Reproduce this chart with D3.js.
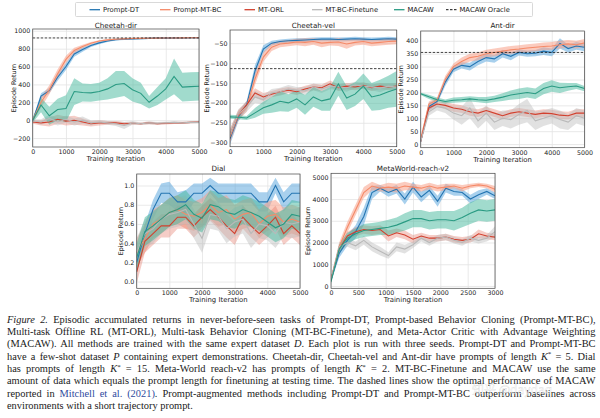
<!DOCTYPE html>
<html>
<head>
<meta charset="utf-8">
<script src="https://cdn.jsdelivr.net/npm/d3@7"></script>
<style>
body { margin: 0; background: #fff; }
svg { display: block; }
</style>
</head>
<body>
<div id="fig"></div>
<script>
// ---- data ----
let iters = [0,250,500,750,1000,1250,1500,1750,2000,2250,2500,2750,3000,3250,3500,3750,4000,4250,4500,4750,5000];
let itersReach = [0,150,300,450,600,750,900,1050,1200,1350,1500,1650,1800,1950,2100,2250,2400,2550,2700,2850,3000];

let methods = ["Prompt-DT","Prompt-MT-BC","MT-ORL","MT-BC-Finetune","MACAW","MACAW Oracle"];

// Cheetah-dir
let dirDT    = [-10,270,330,480,600,740,790,835,865,885,900,905,910,912,915,918,918,920,920,922,922];
let dirDTsd  = [20,30,30,40,40,30,25,15,15,10,10,8,8,8,8,8,8,8,8,8,8];
let dirBC    = [0,200,340,520,680,780,825,860,885,898,905,910,913,915,917,918,920,920,921,922,922];
let dirBCsd  = [20,60,50,50,40,30,20,15,10,10,8,8,8,8,8,8,8,8,8,8,8];
let dirORL   = [-20,-30,-20,10,-10,0,-20,-40,-30,-30,-30,-40,-35,-40,-30,-40,-35,-30,-30,-25,-20];
let dirORLsd = [20,30,50,50,50,50,40,30,30,20,20,20,15,15,15,15,12,12,12,12,12];
let dirFT    = [-10,-20,20,-20,10,-20,0,-30,-20,-30,-40,-60,-30,-40,-30,-35,-30,-25,-30,-25,-25];
let dirFTsd  = [20,30,40,40,40,40,40,30,20,20,25,40,20,15,15,15,12,12,12,12,12];
let dirMW    = [0,170,50,120,130,320,310,305,320,350,400,410,340,300,200,270,350,490,370,375,380];
let dirMWsd  = [30,80,100,120,150,150,100,100,100,120,150,140,130,120,70,100,120,200,160,160,160];
let dirOracle = 920;

// Cheetah-vel
let velDT    = [-290,-235,-205,-120,-65,-50,-46,-44,-43,-42,-41,-40,-40,-41,-40,-39,-40,-41,-40,-39,-40];
let velDTsd  = [15,12,10,15,10,6,5,5,5,5,5,5,5,5,5,5,5,5,5,5,5];
let velBC    = [-285,-232,-210,-140,-85,-60,-52,-50,-47,-48,-46,-50,-48,-47,-52,-48,-46,-50,-48,-46,-45];
let velBCsd  = [15,12,12,15,12,10,8,8,8,10,8,10,8,10,12,8,8,8,8,8,8];
let velORL   = [-280,-230,-205,-175,-185,-178,-172,-168,-172,-165,-160,-162,-152,-162,-158,-160,-156,-162,-158,-160,-158];
let velORLsd = [15,12,10,12,10,8,8,8,8,8,8,8,8,8,8,8,8,8,8,8,8];
let velFT    = [-280,-228,-210,-185,-192,-175,-172,-165,-168,-170,-160,-165,-158,-160,-162,-155,-158,-160,-163,-158,-160];
let velFTsd  = [15,12,12,15,12,10,10,10,8,10,8,10,8,8,10,8,8,8,10,8,8];
let velMW    = [-235,-236,-238,-225,-212,-205,-196,-200,-190,-205,-185,-195,-190,-152,-188,-178,-158,-185,-180,-172,-165];
let velMWsd  = [5,5,5,12,15,20,25,22,22,25,25,25,30,30,30,30,32,35,38,40,45];
let velOracle = -114;

// Ant-dir
let antDT    = [10,145,165,240,290,305,300,320,335,330,350,340,355,350,352,360,355,390,370,380,375];
let antDTsd  = [5,15,10,15,12,12,15,15,15,15,15,15,12,12,12,15,15,20,15,15,15];
let antBC    = [20,155,170,250,300,320,335,340,350,355,360,365,368,372,375,378,380,385,388,385,392];
let antBCsd  = [5,10,10,15,12,15,15,15,15,15,15,15,15,15,15,15,15,15,15,15,15];
let antORL   = [10,140,155,150,140,135,125,120,130,120,110,120,125,120,115,120,118,112,110,120,120];
let antORLsd = [5,10,10,15,15,15,15,15,15,15,15,15,15,15,15,15,15,15,15,15,15];
let antFT    = [10,125,145,140,120,110,140,90,120,85,100,95,115,130,90,100,110,95,85,110,100];
let antFTsd  = [5,15,15,20,25,35,40,30,30,30,30,35,40,45,35,30,30,35,30,30,30];
let antMW    = [195,183,172,165,170,172,175,172,170,175,182,190,195,200,195,215,225,218,222,225,215];
let antMWsd  = [5,8,8,8,10,10,10,10,12,12,15,18,20,20,20,22,22,20,15,12,10];
let antOracle = 355;

// Dial
let dialDT    = [0.2,0.5,0.75,0.92,0.92,0.83,0.83,0.92,0.92,1.0,0.92,0.92,0.92,0.92,0.92,0.83,0.83,1.0,0.83,0.92,0.92];
let dialDTsd  = [0.1,0.1,0.1,0.1,0.12,0.1,0.12,0.1,0.1,0.08,0.1,0.1,0.1,0.1,0.1,0.1,0.1,0.08,0.1,0.1,0.1];
let dialBC    = [0.3,0.45,0.6,0.65,0.72,0.75,0.7,0.68,0.72,0.8,0.72,0.75,0.65,0.7,0.72,0.6,0.68,0.7,0.62,0.65,0.62];
let dialBCsd  = [0.15,0.15,0.15,0.15,0.15,0.15,0.15,0.15,0.15,0.15,0.15,0.15,0.15,0.15,0.15,0.15,0.15,0.15,0.15,0.15,0.15];
let dialORL   = [0.1,0.42,0.5,0.58,0.58,0.67,0.67,0.58,0.67,0.75,0.67,0.58,0.5,0.67,0.58,0.5,0.58,0.67,0.5,0.58,0.5];
let dialORLsd = [0.12,0.12,0.12,0.12,0.12,0.12,0.12,0.12,0.12,0.12,0.12,0.12,0.12,0.12,0.12,0.12,0.12,0.12,0.12,0.12,0.12];
let dialFT    = [0.3,0.5,0.55,0.65,0.7,0.72,0.75,0.6,0.45,0.7,0.68,0.55,0.62,0.65,0.5,0.6,0.58,0.5,0.62,0.6,0.62];
let dialFTsd  = [0.15,0.15,0.15,0.15,0.15,0.15,0.15,0.15,0.15,0.15,0.15,0.15,0.15,0.15,0.15,0.15,0.15,0.15,0.15,0.15,0.15];
let dialMW    = [0.25,0.52,0.58,0.65,0.72,0.75,0.8,0.7,0.66,0.8,0.78,0.72,0.7,0.75,0.72,0.68,0.62,0.56,0.6,0.7,0.68];
let dialMWsd  = [0.15,0.15,0.15,0.15,0.15,0.15,0.15,0.15,0.15,0.15,0.15,0.15,0.15,0.15,0.15,0.15,0.15,0.15,0.15,0.15,0.15];

// MetaWorld-reach-v2
let reachDT    = [300,1500,2100,2500,3200,4300,4500,4300,4450,4000,4550,4100,4400,3900,4500,4350,4300,4000,4200,4350,4150];
let reachDTsd  = [100,200,250,300,400,300,150,200,200,250,250,250,200,250,200,200,150,200,200,150,150];
let reachBC    = [300,1800,2700,3500,4300,4600,4500,4550,4500,4600,4550,4500,4600,4500,4550,4600,4500,4600,4650,4600,4450];
let reachBCsd  = [100,200,250,250,250,200,150,200,200,200,150,150,150,150,150,100,150,100,100,100,150];
let reachORL   = [300,1700,2300,2500,2600,2550,2600,2300,2450,2350,2150,2300,2200,2200,2250,2150,2100,2150,2400,2300,2250];
let reachORLsd = [100,200,200,200,200,200,200,250,200,200,200,150,150,150,150,150,150,150,200,150,150];
let reachFT    = [300,1800,2000,1850,2100,1800,1600,1400,1800,1700,1900,2200,2000,2200,2250,2100,2000,2200,2100,2200,2500];
let reachFTsd  = [100,200,200,200,200,200,200,150,200,200,150,150,150,150,150,150,150,150,150,150,250];
let reachMW    = [200,1700,2200,2400,2550,2600,2650,2700,2800,2950,3100,3100,3000,3050,3050,3000,3150,3350,3500,3450,3500];
let reachMWsd  = [100,200,250,250,300,300,300,350,350,400,400,400,400,400,400,450,450,500,500,500,500];

// ---- figure ----
let svgWidth = 600, svgHeight = 418;
let colors = {
    "Prompt-DT":      {line:"#2475b2", band:"#3f97d6", op:0.45},
    "Prompt-MT-BC":   {line:"#f58a68", band:"#f7a189", op:0.55},
    "MT-ORL":         {line:"#d2402e", band:"#e2705f", op:0.35},
    "MT-BC-Finetune": {line:"#b9b9b9", band:"#bdbdbd", op:0.45},
    "MACAW":          {line:"#2a9b83", band:"#43b79c", op:0.5}
};

let svg = d3.select("#fig").append("svg")
    .attr("width", svgWidth)
    .attr("height", svgHeight);

function series(mean, sd, name) { return {name: name, mean: mean, sd: sd}; }

let panels = [
    {title:"Cheetah-dir", left:32.7, right:199, top:29, bottom:147, x:iters, xMax:5000,
     xTicks:[0,1000,2000,3000,4000,5000], yDomain:[-300,1020], yTicks:[-200,0,200,400,600,800,1000],
     fmt:d3.format("d"), labX:14, oracle:dirOracle, titleY:27.5,
     series:[series(dirDT,dirDTsd,methods[0]),series(dirBC,dirBCsd,methods[1]),series(dirORL,dirORLsd,methods[2]),
             series(dirFT,dirFTsd,methods[3]),series(dirMW,dirMWsd,methods[4])]},
    {title:"Cheetah-vel", left:230, right:396.7, top:30, bottom:146.7, x:iters, xMax:5000,
     xTicks:[0,1000,2000,3000,4000,5000], yDomain:[-310,-17], yTicks:[-300,-250,-200,-150,-100,-50],
     fmt:d3.format("d"), labX:206.7, oracle:velOracle, titleY:27.5,
     series:[series(velDT,velDTsd,methods[0]),series(velBC,velBCsd,methods[1]),series(velORL,velORLsd,methods[2]),
             series(velFT,velFTsd,methods[3]),series(velMW,velMWsd,methods[4])]},
    {title:"Ant-dir", left:420.7, right:584.5, top:31, bottom:147.7, x:iters, xMax:5000,
     xTicks:[0,1000,2000,3000,4000,5000], yDomain:[-14,438], yTicks:[0,50,100,150,200,250,300,350,400],
     fmt:d3.format("d"), labX:401, oracle:antOracle, titleY:27.5,
     series:[series(antDT,antDTsd,methods[0]),series(antBC,antBCsd,methods[1]),series(antORL,antORLsd,methods[2]),
             series(antFT,antFTsd,methods[3]),series(antMW,antMWsd,methods[4])]},
    {title:"Dial", left:136.7, right:300, top:174, bottom:288.3, x:iters, xMax:5000,
     xTicks:[0,1000,2000,3000,4000,5000], yDomain:[-0.07,1.12], yTicks:[0,0.2,0.4,0.6,0.8,1.0],
     fmt:d3.format(".1f"), labX:120.7, oracle:null, titleY:171,
     series:[series(dialDT,dialDTsd,methods[0]),series(dialBC,dialBCsd,methods[1]),series(dialORL,dialORLsd,methods[2]),
             series(dialFT,dialFTsd,methods[3]),series(dialMW,dialMWsd,methods[4])]},
    {title:"MetaWorld-reach-v2", left:331, right:495, top:173.3, bottom:288.3, x:itersReach, xMax:3000,
     xTicks:[0,500,1000,1500,2000,2500,3000], yDomain:[-106,5184], yTicks:[0,1000,2000,3000,4000,5000],
     fmt:d3.format("d"), labX:308, oracle:null, titleY:171,
     series:[series(reachDT,reachDTsd,methods[0]),series(reachBC,reachBCsd,methods[1]),series(reachORL,reachORLsd,methods[2]),
             series(reachFT,reachFTsd,methods[3]),series(reachMW,reachMWsd,methods[4])]}
];

let sans = "DejaVu Sans, sans-serif";

panels.forEach(function(p, pi) {
    let xScale = d3.scaleLinear().domain([0, p.xMax]).range([p.left, p.right]);
    let yScale = d3.scaleLinear().domain(p.yDomain).range([p.bottom, p.top]);
    let h = p.bottom - p.top, w = p.right - p.left;

    let g = svg.append("g");

    // grid + tick labels
    let gx = g.append("g")
        .attr("transform", `translate(0,${p.bottom})`)
        .call(d3.axisBottom(xScale).tickValues(p.xTicks).tickSize(-h).tickPadding(2.5).tickFormat(d3.format("d")));
    let gy = g.append("g")
        .attr("transform", `translate(${p.left},0)`)
        .call(d3.axisLeft(yScale).tickValues(p.yTicks).tickSize(-w).tickPadding(2.5).tickFormat(p.fmt));
    [gx, gy].forEach(function(a) {
        a.select(".domain").remove();
        a.selectAll(".tick line").attr("stroke", "#e3e3e3").attr("stroke-width", 0.8);
        a.selectAll(".tick text").attr("font-family", sans).attr("font-size", 6.3).attr("fill", "#222");
    });

    // clip
    g.append("clipPath").attr("id", "clip" + pi)
        .append("rect").attr("x", p.left).attr("y", p.top).attr("width", w).attr("height", h);
    let plot = g.append("g").attr("clip-path", `url(#clip${pi})`);

    p.series.forEach(function(s) {
        let c = colors[s.name];
        let area = d3.area()
            .x((d, i) => xScale(p.x[i]))
            .y0((d, i) => yScale(s.mean[i] - s.sd[i]))
            .y1((d, i) => yScale(s.mean[i] + s.sd[i]));
        plot.append("path").datum(s.mean)
            .attr("d", area)
            .attr("fill", c.band)
            .attr("fill-opacity", c.op);
    });
    p.series.forEach(function(s) {
        let c = colors[s.name];
        let line = d3.line()
            .x((d, i) => xScale(p.x[i]))
            .y(d => yScale(d));
        plot.append("path").datum(s.mean)
            .attr("d", line)
            .attr("fill", "none")
            .attr("stroke", c.line)
            .attr("stroke-width", 1.1);
    });

    if (p.oracle !== null) {
        plot.append("line")
            .attr("x1", p.left).attr("x2", p.right)
            .attr("y1", yScale(p.oracle)).attr("y2", yScale(p.oracle))
            .attr("stroke", "#111").attr("stroke-width", 0.8)
            .attr("stroke-dasharray", "2.5,1.5");
    }

    // frame
    g.append("rect")
        .attr("x", p.left).attr("y", p.top).attr("width", w).attr("height", h)
        .attr("fill", "none").attr("stroke", "#444").attr("stroke-width", 0.7);

    // labels
    g.append("text")
        .attr("x", (p.left + p.right) / 2).attr("y", p.titleY)
        .attr("text-anchor", "middle")
        .attr("font-family", sans).attr("font-size", 7.2)
        .attr("fill", "#222")
        .text(p.title);
    g.append("text")
        .attr("x", (p.left + p.right) / 2).attr("y", p.bottom + 14)
        .attr("text-anchor", "middle")
        .attr("font-family", sans).attr("font-size", 6.9)
        .attr("fill", "#222")
        .text("Training Iteration");
    g.append("text")
        .attr("transform", `translate(${p.labX},${(p.top + p.bottom) / 2}) rotate(-90)`)
        .attr("dy", "0.35em")
        .attr("text-anchor", "middle")
        .attr("font-family", sans).attr("font-size", 6.4)
        .attr("fill", "#222")
        .text("Episode Return");
});

// legend
let legend = svg.append("g");
legend.append("rect")
    .attr("x", 75.5).attr("y", 2.5).attr("width", 457).attr("height", 14)
    .attr("rx", 1).attr("fill", "#fff").attr("stroke", "#cfcfcf").attr("stroke-width", 0.8);
let legX = [89.5, 160, 244.5, 312, 394, 446];
methods.forEach(function(m, i) {
    let isOracle = m === "MACAW Oracle";
    legend.append("line")
        .attr("x1", legX[i]).attr("x2", legX[i] + 10.5)
        .attr("y1", 9.7).attr("y2", 9.7)
        .attr("stroke", isOracle ? "#111" : colors[m].line)
        .attr("stroke-width", isOracle ? 1 : 1.3)
        .attr("stroke-dasharray", isOracle ? "2.5,1.5" : null);
    legend.append("text")
        .attr("x", legX[i] + 13.5).attr("y", 12.3)
        .attr("font-family", sans).attr("font-size", 6.8)
        .attr("fill", "#222")
        .text(m);
});

// caption
let captionLines = [
    [{t:"Figure 2.", it:true}, {t:" Episodic accumulated returns in never-before-seen tasks of Prompt-DT, Prompt-based Behavior Cloning (Prompt-MT-BC),"}],
    [{t:"Multi-task Offline RL (MT-ORL), Multi-task Behavior Cloning (MT-BC-Finetune), and Meta-Actor Critic with Advantage Weighting"}],
    [{t:"(MACAW). All methods are trained with the same expert dataset "}, {t:"D", it:true}, {t:". Each plot is run with three seeds. Prompt-DT and Prompt-MT-BC"}],
    [{t:"have a few-shot dataset "}, {t:"P", it:true}, {t:" containing expert demonstrations. Cheetah-dir, Cheetah-vel and Ant-dir have prompts of length "}, {t:"K", it:true}, {t:"*", sup:true}, {t:" = 5. Dial"}],
    [{t:"has prompts of length "}, {t:"K", it:true}, {t:"*", sup:true}, {t:" = 15. Meta-World reach-v2 has prompts of length "}, {t:"K", it:true}, {t:"*", sup:true}, {t:" = 2. MT-BC-Finetune and MACAW use the same"}],
    [{t:"amount of data which equals the prompt length for finetuning at testing time. The dashed lines show the optimal performance of MACAW"}],
    [{t:"reported in "}, {t:"Mitchell et al. (2021)", link:true}, {t:". Prompt-augmented methods including Prompt-DT and Prompt-MT-BC outperform baselines across"}],
    [{t:"environments with a short trajectory prompt."}]
];
let capLeft = 7, capRight = 595.5, capTop = 322.8, capStep = 12.3;
let cap = svg.append("g")
    .attr("font-family", "Liberation Serif, Times New Roman, serif")
    .attr("font-size", 10.4)
    .attr("fill", "#1a1a1a");
captionLines.forEach(function(segs, li) {
    let t = cap.append("text")
        .attr("x", capLeft)
        .attr("y", capTop + li * capStep);
    let raised = false;
    segs.forEach(function(s) {
        let ts = t.append("tspan").text(s.t);
        if (s.it) ts.attr("font-style", "italic");
        if (s.link) ts.attr("fill", "#2e4a9e");
        if (s.sup) {
            ts.attr("font-size", 7).attr("dy", -3.5);
            raised = true;
        } else if (raised) {
            ts.attr("dy", 3.5);
            raised = false;
        }
    });
    if (li < captionLines.length - 1) {
        let full = segs.map(s => s.t).join("");
        let spaces = (full.match(/ /g) || []).length;
        let natural = t.node().getComputedTextLength();
        t.attr("word-spacing", (capRight - capLeft - natural) / spaces);
    }
});

// watermark
svg.append("text")
    .attr("x", 472).attr("y", 394)
    .attr("font-family", "Noto Sans CJK SC, sans-serif")
    .attr("font-size", 12)
    .attr("fill", "#fff").attr("fill-opacity", 0.75)
    .attr("stroke", "#999").attr("stroke-width", 0.25).attr("stroke-opacity", 0.6)
    .text("知乎 @daydaq");
</script>
</body>
</html>
